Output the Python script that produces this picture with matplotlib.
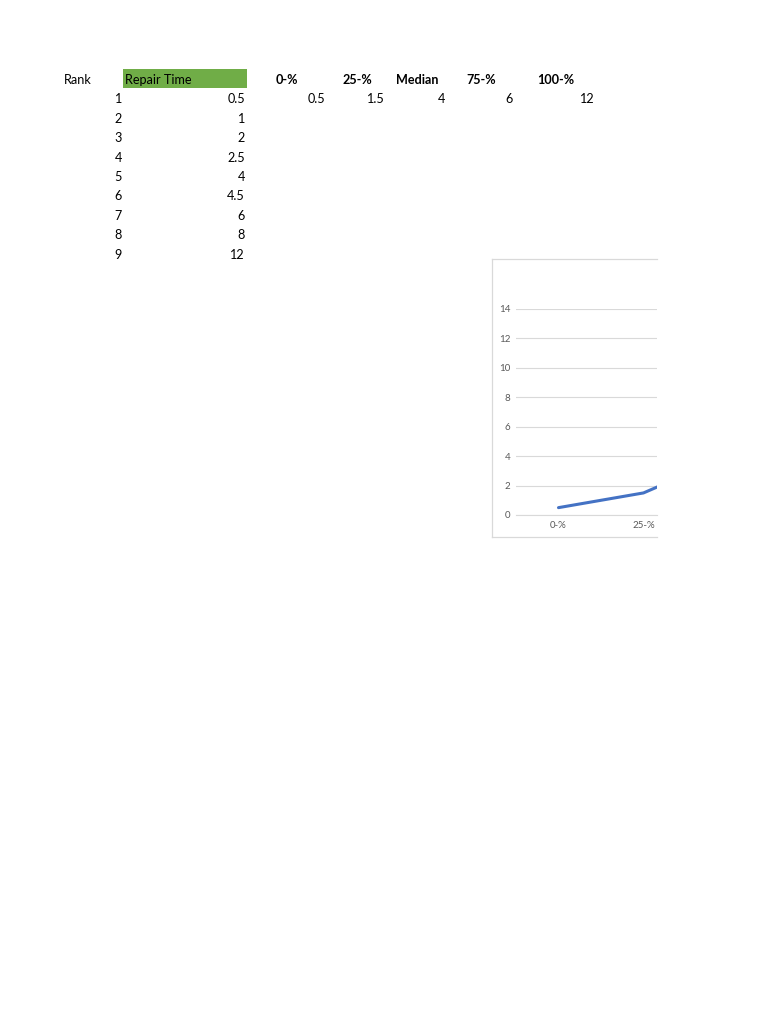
import numpy as np
import matplotlib.pyplot as plt
from matplotlib.patches import Rectangle

# spreadsheet data
ranks = [1, 2, 3, 4, 5, 6, 7, 8, 9]
repair_times = [0.5, 1, 2, 2.5, 4, 4.5, 6, 8, 12]
quart_labels = ["0-%", "25-%", "Median", "75-%", "100-%"]
quart_values = [0.5, 1.5, 4, 6, 12]
y_ticks = [0, 2, 4, 6, 8, 10, 12, 14]

W, H = 768, 1024
fig = plt.figure(figsize=(W / 100, H / 100), dpi=100)
fig.patch.set_facecolor("white")

FONT = "Lato"
FS = 9.1


def px(x, y):
    # pixel coords -> figure fraction
    return x / W, 1 - y / H


def fmt(v):
    return f"{v:g}"


# header row
row_y = [80 + 19.4 * i for i in range(10)]
fig.text(*px(64, row_y[0]), "Rank", fontsize=FS, family=FONT, va="center", ha="left")
fig.patches.append(Rectangle(px(123, 88), 124 / W, 19 / H, transform=fig.transFigure,
                             facecolor="#70ad47", edgecolor="none"))
fig.text(*px(125, row_y[0]), "Repair Time", fontsize=FS, family=FONT, va="center", ha="left")

for r, t, y in zip(ranks, repair_times, row_y[1:]):
    fig.text(*px(122, y), str(r), fontsize=FS, family=FONT, va="center", ha="right")
    fig.text(*px(245, y), fmt(t), fontsize=FS, family=FONT, va="center", ha="right")

# quartile block
col_edges = [247, 327, 387, 447, 515, 597]
for i, (lab, val) in enumerate(zip(quart_labels, quart_values)):
    lo, hi = col_edges[i], col_edges[i + 1]
    fig.text(*px((lo + hi) / 2, row_y[0]), lab, fontsize=FS, family=FONT,
             fontweight="bold", va="center", ha="center")
    fig.text(*px(hi - 2, row_y[1]), fmt(val), fontsize=FS, family=FONT,
             va="center", ha="right")

# chart frame (cut off on the right)
fig.add_artist(plt.Line2D([492 / W, 492 / W], [1 - 259 / H, 1 - 537 / H],
                          transform=fig.transFigure, color="#d9d9d9", lw=0.9))
fig.add_artist(plt.Line2D([492 / W, 657 / W], [1 - 259 / H, 1 - 259 / H],
                          transform=fig.transFigure, color="#d9d9d9", lw=0.9))
fig.add_artist(plt.Line2D([492 / W, 657 / W], [1 - 537 / H, 1 - 537 / H],
                          transform=fig.transFigure, color="#d9d9d9", lw=0.9))

# chart axes, clipped at the visible edge
left, right, top, bot = 516, 657, 309, 515
ax = fig.add_axes([left / W, 1 - bot / H, (right - left) / W, (bot - top) / H])
ax.set_facecolor("none")
x = np.arange(len(quart_values))
ax.plot(x, quart_values, color="#4472c4", lw=2.2, solid_capstyle="round")
ax.set_yticks(y_ticks)
ax.set_xticks(x)
ax.set_xticklabels(quart_labels)
ax.set_xlim(-0.5, (right - left) / 85 - 0.5)
ax.set_ylim(0, 14)
ax.grid(axis="y", color="#d9d9d9", lw=0.8)
ax.set_axisbelow(True)
for s in ["top", "right", "left"]:
    ax.spines[s].set_visible(False)
ax.spines["bottom"].set_color("#d9d9d9")
ax.tick_params(length=0, labelsize=7, labelcolor="#595959", pad=4)
for lab in ax.get_xticklabels() + ax.get_yticklabels():
    lab.set_family(FONT)

fig.savefig("out.png", dpi=100, facecolor="white")
